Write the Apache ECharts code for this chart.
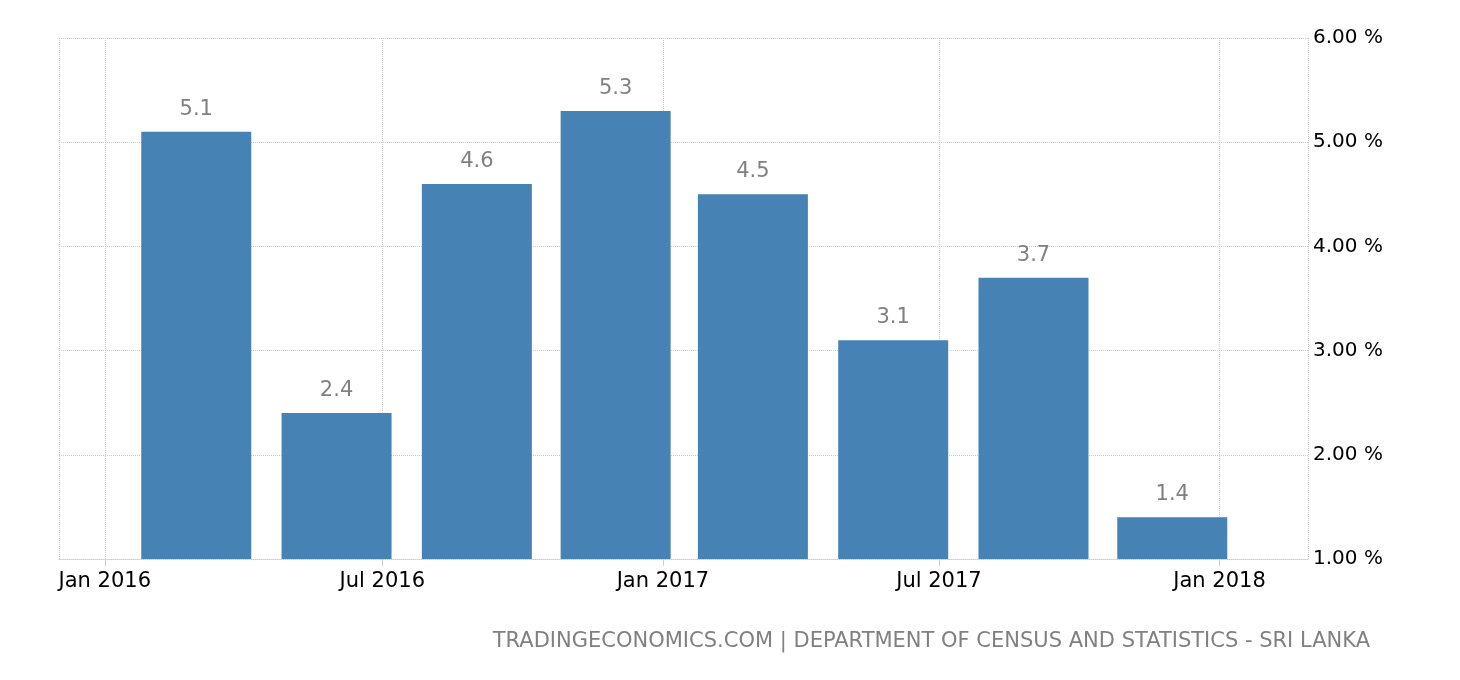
<!DOCTYPE html>
<html>
<head>
<meta charset="utf-8">
<script src="https://cdn.jsdelivr.net/npm/echarts@6/dist/echarts.min.js"></script>
<style>
  html, body { margin: 0; padding: 0; background: #fff; }
  #chart { width: 1460px; height: 680px; }
</style>
</head>
<body>
<div id="chart"></div>
<script>
// quarterly GDP growth, sri lanka
var dates = ['2016-03-01', '2016-06-01', '2016-09-01', '2016-12-01',
             '2017-03-01', '2017-06-01', '2017-09-01', '2017-12-01'];
var growth = [5.1, 2.4, 4.6, 5.3, 4.5, 3.1, 3.7, 1.4];
var yTicks = [1, 2, 3, 4, 5, 6];
var source = 'TRADINGECONOMICS.COM | DEPARTMENT OF CENSUS AND STATISTICS - SRI LANKA';

var FONT = "'DejaVu Sans', sans-serif";
var months = ['Jan', 'Feb', 'Mar', 'Apr', 'May', 'Jun', 'Jul', 'Aug', 'Sep', 'Oct', 'Nov', 'Dec'];

// visible range of the x axis
var xMin = +new Date('2015-12-02T00:00:00');
var xMax = +new Date('2018-02-28T00:00:00');

var BAR_W = 110;
var plotW = 1460 - 59 - 152;
// echarts pads a bar axis by half a bar on each side, so pull min/max in by that much
var pad = (BAR_W / 2) * (xMax - xMin) / plotW;

var chart = echarts.init(document.getElementById('chart'));

var option = {
  animation: false,
  textStyle: { fontFamily: FONT },
  grid: { left: 59, right: 152, top: 38, bottom: 121, containLabel: false },
  xAxis: [{
    // ticks, labels and grid (half-year steps)
    type: 'time',
    min: xMin,
    max: xMax,
    splitNumber: 4.5,
    axisLine: { show: true, lineStyle: { color: '#ccc', type: 'dotted' } },
    axisTick: { show: true, length: 7, lineStyle: { color: '#ccc' } },
    splitLine: { show: true, lineStyle: { color: '#ccc', type: 'dotted' } },
    axisLabel: {
      color: '#000',
      fontSize: 21,
      fontFamily: FONT,
      margin: 12,
      showMinLabel: false,
      showMaxLabel: false,
      formatter: function (v) {
        var d = new Date(v);
        return months[d.getMonth()] + ' ' + d.getFullYear();
      }
    }
  }, {
    // hidden axis carrying the bars
    type: 'time',
    min: xMin + pad,
    max: xMax - pad,
    show: false,
    splitLine: { show: false }
  }],
  yAxis: {
    type: 'value',
    position: 'right',
    min: yTicks[0],
    max: yTicks[yTicks.length - 1],
    interval: 1,
    axisLine: { show: false },
    axisTick: { show: false },
    splitLine: { lineStyle: { color: '#ccc', type: 'dotted' } },
    axisLabel: {
      color: '#000',
      fontSize: 20,
      fontFamily: FONT,
      margin: 5,
      padding: [5, 0, 0, 0],
      formatter: function (v) { return v.toFixed(2) + ' %'; }
    }
  },
  series: [{
    type: 'bar',
    xAxisIndex: 1,
    barWidth: BAR_W,
    itemStyle: { color: '#4682b4' },
    label: {
      show: true,
      position: 'top',
      distance: 12,
      color: '#808080',
      fontSize: 21,
      fontFamily: FONT
    },
    data: dates.map(function (d, i) { return [+new Date(d + 'T00:00:00'), growth[i]]; })
  }],
  graphic: [{
    type: 'text',
    right: 90,
    top: 631,
    style: {
      text: source,
      fill: '#808080',
      fontSize: 21,
      fontFamily: FONT
    }
  }]
};

chart.setOption(option);
</script>
</body>
</html>
